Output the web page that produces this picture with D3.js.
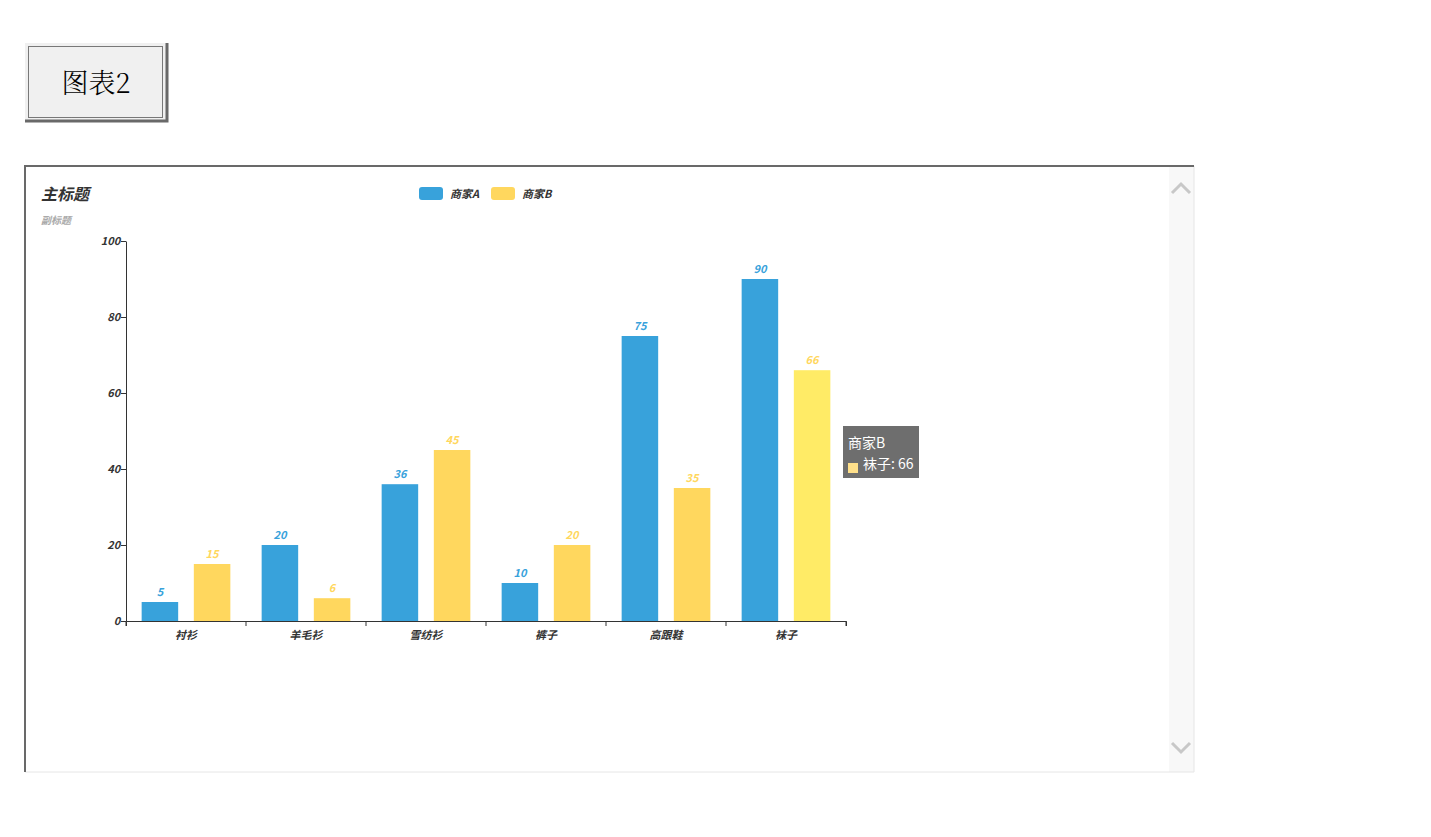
<!DOCTYPE html>
<html><head><meta charset="utf-8">
<script src="https://cdn.jsdelivr.net/npm/d3@7/dist/d3.min.js"></script>
<style>
body{margin:0;background:#fff;}
svg{position:absolute;left:0;top:0;}
</style></head><body>
<svg id="c" width="1431" height="837"></svg>
<script>
const categories=["衬衫","羊毛衫","雪纺衫","裤子","高跟鞋","袜子"];
const seriesNames=["商家A","商家B"];
const seriesA=[5,20,36,10,75,90];
const seriesB=[15,6,45,20,35,66];
const yTicks=[0,20,40,60,80,100];
const colors=["#38a2db","#ffd75e"];
const hoverColor="#ffeb66";

const svg=d3.select("#c");
const F="'Noto Sans CJK SC','DejaVu Sans',sans-serif";

// button
const b=svg.append("g");
b.append("rect").attr("x",24).attr("y",42).attr("width",144).attr("height",80).attr("fill","#f0f0f0");
b.append("path").attr("d","M24,122V42H168").attr("stroke","#fff").attr("stroke-width",2).attr("fill","none");
b.append("path").attr("d","M25,121H167V43").attr("stroke","#696969").attr("stroke-width",3).attr("fill","none");
b.append("rect").attr("x",28.5).attr("y",46.5).attr("width",134).attr("height",71).attr("fill","none").attr("stroke","#000").attr("stroke-dasharray","1,1");
b.append("text").attr("x",96).attr("y",93).attr("text-anchor","middle").attr("font-family","'Noto Serif CJK SC','Noto Sans CJK SC',serif").attr("font-size",27).attr("font-weight",300).text("图表2");

// frame
svg.append("rect").attr("x",1169).attr("y",166).attr("width",25).attr("height",606).attr("fill","#f8f8f8");
svg.append("path").attr("d","M1194,166V772H25").attr("stroke","#e6e6e6").attr("fill","none");
svg.append("path").attr("d","M25,772V166H1194").attr("stroke","#696969").attr("stroke-width",2).attr("fill","none");
svg.append("path").attr("d","M1172,193L1181,184L1190,193").attr("stroke","#c8c8c8").attr("stroke-width",3).attr("fill","none");
svg.append("path").attr("d","M1172,743L1181,752L1190,743").attr("stroke","#c8c8c8").attr("stroke-width",3).attr("fill","none");

// titles
svg.append("text").attr("x",41).attr("y",200).attr("font-family",F).attr("font-size",16).attr("font-weight","bold").attr("font-style","italic").attr("fill","#333").text("主标题");
svg.append("text").attr("x",41).attr("y",224).attr("font-family",F).attr("font-size",10).attr("font-weight","bold").attr("font-style","italic").attr("fill","#aaa").text("副标题");

// legend
seriesNames.forEach((n,i)=>{
  const x=419+i*72;
  svg.append("rect").attr("x",x).attr("y",187).attr("width",24).attr("height",13).attr("rx",3).attr("fill",colors[i]);
  svg.append("text").attr("x",x+31).attr("y",198).attr("font-family",F).attr("font-size",11).attr("font-weight","bold").attr("font-style","italic").attr("fill","#333").text(n);
});

const x=d3.scaleBand().domain(categories).range([126,846]);
const y=d3.scaleLinear().domain([0,100]).range([621,241]);
const inner=d3.scaleBand().domain([0,1]).range([0,x.bandwidth()]).paddingInner(0.3).paddingOuter(0.3);

const g=svg.append("g");
[seriesA,seriesB].forEach((vals,si)=>{
  vals.forEach((v,i)=>{
    const bx=x(categories[i])+inner(si);
    const hov=(si===1&&i===5);
    g.append("rect").attr("x",bx).attr("y",y(v)).attr("width",inner.bandwidth()).attr("height",y(0)-y(v)).attr("fill",hov?hoverColor:colors[si]);
    g.append("text").attr("x",bx+inner.bandwidth()/2).attr("y",y(v)-6).attr("text-anchor","middle").attr("font-family",F).attr("font-size",11).attr("font-weight","bold").attr("font-style","italic").attr("fill",colors[si]).text(v);
  });
});

const ya=svg.append("g").attr("transform","translate(126,0)").call(d3.axisLeft(y).tickValues(yTicks).tickSize(5).tickSizeOuter(0));
const xa=svg.append("g").attr("transform","translate(0,621)").call(d3.axisBottom(x).tickSize(5).tickSizeOuter(5));
[ya,xa].forEach(a=>{a.selectAll("path,line").attr("stroke","#333");a.selectAll("text").attr("font-family",F).attr("font-size",11).attr("font-weight","bold").attr("font-style","italic").attr("fill","#333");});
xa.selectAll(".tick line").attr("transform",`translate(${-x.bandwidth()/2},0)`);
xa.append("line").attr("x1",846).attr("x2",846).attr("y1",0).attr("y2",5).attr("stroke","#333");
xa.selectAll("text").attr("dy","0.9em");
ya.selectAll("text").attr("dx","0.2em");

// tooltip
const t=svg.append("g");
t.append("rect").attr("x",843).attr("y",426).attr("width",76).attr("height",52).attr("fill","#6e6e6e");
t.append("text").attr("x",848).attr("y",448).attr("font-family",F).attr("font-size",14).attr("fill","#fff").text(seriesNames[1]);
t.append("rect").attr("x",848).attr("y",463).attr("width",10).attr("height",10).attr("fill","#ffe08a");
t.append("text").attr("x",863).attr("y",469).attr("font-family",F).attr("font-size",14).attr("fill","#fff").text(categories[5]+": "+seriesB[5]);
</script></body></html>
